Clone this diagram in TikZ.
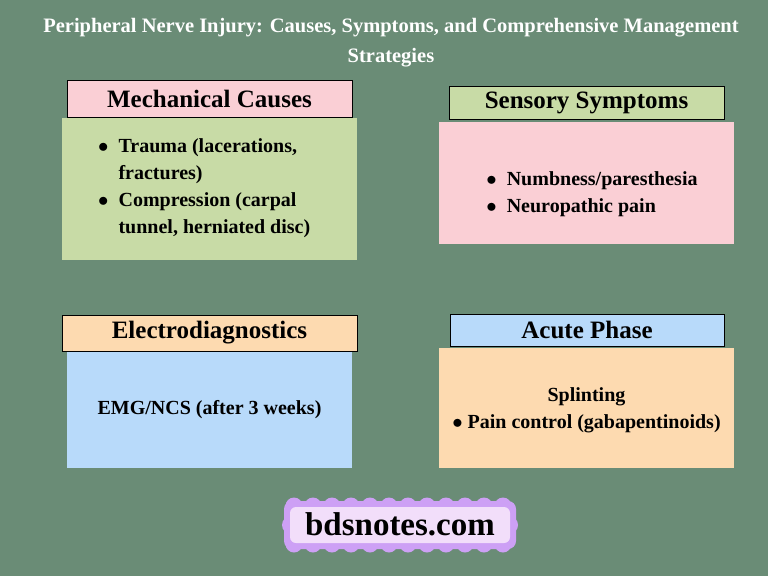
\documentclass[tikz,border=0pt]{standalone}
\usepackage{fontspec}
\setmainfont{Liberation Serif}
\usetikzlibrary{positioning}
\definecolor{bgcol}{RGB}{106,140,118}
\definecolor{colpink}{RGB}{250,207,213}
\definecolor{colgreen}{RGB}{200,219,166}
\definecolor{colblue}{RGB}{184,218,250}
\definecolor{colpeach}{RGB}{253,218,176}
\definecolor{colpurp}{RGB}{205,160,245}
\definecolor{collav}{RGB}{242,222,250}
\tikzstyle{head}=[draw=black, line width=1pt, inner sep=0pt, font=\fontsize{25}{27}\selectfont\bfseries]
\tikzstyle{body}=[inner sep=0pt, font=\fontsize{20}{27}\selectfont\bfseries]
\begin{document}
\begin{tikzpicture}[x=1pt,y=-1pt]
		    \fill[bgcol] (0,0) rectangle (768,576);
		    \node[white, align=center, font=\fontsize{20.5}{30}\selectfont\bfseries] (title) at (391,43)
		    {Peripheral Nerve Injury: Causes, Symptoms, and Comprehensive Management\\Strategies};
		    % top left
		    \node[body, fill=colgreen, minimum width=295, minimum height=142] (b1) at (209.5,189) {};
		    \node[head, fill=colpink, minimum width=285, minimum height=37] (h1) at (209.5,99) {Mechanical Causes};
		    \node[body, align=left, anchor=north west] (t1) at (98,138) {$\bullet$\ \ Trauma (lacerations,\\\phantom{$\bullet$\ \ }fractures)\\$\bullet$\ \ Compression (carpal\\\phantom{$\bullet$\ \ }tunnel, herniated disc)};
		    % top right
		    \node[body, fill=colpink, minimum width=295, minimum height=122] (b2) at (586.5,183) {};
		    \node[head, fill=colgreen, minimum width=275, minimum height=33] (h2) at (586.5,103) {Sensory Symptoms};
		    \node[body, align=left] (t2) at (592,194) {$\bullet$\ \ Numbness/paresthesia\\$\bullet$\ \ Neuropathic pain};
		    % bottom left
		    \node[body, fill=colblue, minimum width=285, minimum height=117] (b3) at (209.5,409.5) {EMG/NCS (after 3 weeks)};
		    \node[head, fill=colpeach, minimum width=295, minimum height=36] (h3) at (209.5,333) {Electrodiagnostics};
		    % bottom right
		    \node[body, fill=colpeach, minimum width=295, minimum height=120] (b4) at (586.5,408) {};
		    \node[head, fill=colblue, minimum width=274, minimum height=32] (h4) at (587,330) {Acute Phase};
		    \node[body, align=center] (t4) at (586.5,410) {Splinting\\$\bullet$ Pain control (gabapentinoids)};
		    % logo
		    \foreach \x in {294,313,...,504} {
		      \fill[colpurp] (\x,506) circle (8.5);
		      \fill[colpurp] (\x,544) circle (8.5);
		    }
		    \fill[colpurp] (291,525) circle (9) (509,525) circle (9);
		    \fill[colpurp, rounded corners=8] (284,501) rectangle (516,549);
		    \fill[collav, rounded corners=6] (290,507) rectangle (510,543);
		    \node[font=\fontsize{33}{35}\selectfont\bfseries] (logo) at (400,524) {bdsnotes.com};
\end{tikzpicture}
\end{document}
